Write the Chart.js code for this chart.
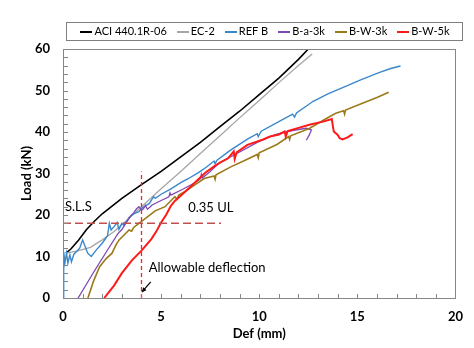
<!DOCTYPE html>
<html><head><meta charset="utf-8">
<script src="https://cdn.jsdelivr.net/npm/chart.js@4.4.0/dist/chart.umd.min.js"></script>
<style>html,body{margin:0;padding:0;background:#fff}#wrap{width:474px;height:348px}</style>
</head><body><div id="wrap"><canvas id="c" width="474" height="348"></canvas></div>
<script>
// ---- data (Def in mm, Load in kN) ----
const seriesNames = ['ACI 440.1R-06', 'EC-2', 'REF B', 'B-a-3k', 'B-W-3k', 'B-W-5k'];

const aciX = [0.15, 0.4, 0.8, 1.2, 1.6, 2.0, 3.0, 4.0, 5.0, 6.0, 7.0, 8.0, 9.0, 10.0, 11.0, 12.0, 12.5];
const aciY = [10.8, 11.8, 14.0, 16.5, 18.5, 20.3, 24.0, 27.3, 30.5, 34.0, 37.5, 41.3, 45.0, 49.0, 53.0, 57.5, 60.0];

const ec2X = [0.15, 0.7, 1.4, 2.0, 2.6, 3.2, 4.0, 5.0, 6.0, 7.0, 8.0, 9.0, 10.0, 11.0, 12.0, 12.7];
const ec2Y = [10.8, 11.3, 12.2, 14.0, 16.0, 18.5, 22.0, 26.3, 30.5, 34.8, 39.1, 43.4, 47.6, 51.9, 56.0, 58.8];

const refX = [0, 0.02, 0.05, 0.1, 0.18, 0.25, 0.35, 0.43, 0.55, 0.85, 1.0, 1.26, 1.44, 1.7, 2.0, 2.27, 2.36, 2.45, 2.6, 2.76, 2.85, 3.0, 3.1, 3.37, 3.6, 3.87, 4.0, 4.2, 4.4, 4.62, 4.7, 5.0, 5.5, 6.0, 6.4, 6.9, 7.3, 7.7, 7.75, 7.85, 8.5, 9.4, 9.9, 9.95, 10.1, 11.0, 11.7, 11.8, 11.9, 12.75, 13.5, 14.4, 15.2, 16.1, 16.7, 17.2];
const refY = [0, 8.0, 11.1, 8.5, 10.8, 8.4, 10.4, 8.7, 10.5, 12.0, 14.0, 10.8, 10.0, 11.6, 13.2, 15.0, 18.0, 16.4, 17.2, 18.2, 16.5, 18.0, 17.5, 19.4, 20.3, 20.8, 21.6, 22.2, 22.8, 24.4, 24.0, 25.0, 26.3, 27.8, 28.8, 30.2, 31.5, 33.0, 32.4, 33.2, 35.5, 38.3, 39.6, 38.9, 40.2, 42.5, 44.3, 43.6, 44.6, 47.4, 49.2, 51.0, 52.6, 54.3, 55.3, 55.9];

const baX = [0.77, 1.6, 2.3, 2.8, 3.0, 3.2, 3.45, 3.6, 3.75, 3.87, 4.0, 4.1, 4.2, 4.3, 4.45, 4.54, 5.0, 5.4, 5.45, 5.5, 6.1, 6.7, 7.0, 7.05, 7.1, 7.5, 7.9, 8.2, 8.7, 9.05, 9.9, 10.5, 10.9, 11.4, 12.0, 12.4, 12.66, 12.55, 12.4];
const baY = [0, 6.5, 11.8, 15.5, 16.5, 18.0, 19.8, 20.5, 21.5, 22.0, 21.2, 21.5, 22.3, 21.4, 22.0, 22.4, 23.5, 24.4, 25.3, 24.8, 26.2, 27.7, 28.7, 29.8, 28.9, 30.5, 32.3, 33.2, 34.4, 35.3, 37.5, 38.8, 39.5, 40.1, 40.6, 40.9, 40.5, 39.3, 38.0];

const bw3X = [1.27, 1.55, 1.86, 2.2, 2.5, 2.7, 2.86, 3.2, 3.37, 3.5, 3.6, 3.87, 4.37, 4.7, 5.2, 5.7, 5.8, 5.9, 6.2, 6.7, 7.2, 7.7, 7.75, 7.8, 8.55, 9.2, 9.9, 9.95, 10.0, 10.9, 11.5, 11.55, 11.6, 12.16, 12.57, 13.4, 13.9, 14.3, 14.35, 14.4, 15.26, 16.0, 16.6];
const bw3Y = [0, 4.0, 7.5, 9.5, 10.8, 12.8, 14.0, 15.6, 16.4, 16.1, 17.0, 18.0, 19.8, 21.0, 22.0, 24.4, 23.8, 24.8, 25.6, 27.2, 28.8, 29.4, 28.6, 29.7, 31.6, 33.0, 34.6, 33.8, 35.0, 37.0, 38.9, 38.2, 39.1, 40.1, 40.9, 43.2, 44.5, 45.1, 44.3, 45.3, 46.9, 48.3, 49.6];

const bw5X = [2.1, 2.6, 3.0, 3.5, 4.0, 4.5, 4.75, 5.0, 5.25, 5.5, 5.7, 6.04, 6.5, 6.9, 7.25, 7.7, 8.0, 8.4, 8.7, 8.75, 8.85, 9.4, 10.2, 10.55, 11.0, 11.3, 11.35, 11.45, 12.0, 12.6, 13.25, 13.7, 13.75, 13.8, 14.0, 14.1, 14.25, 14.5, 14.76];
const bw5Y = [0, 3.0, 6.0, 9.0, 11.4, 14.2, 16.0, 18.2, 20.0, 22.2, 23.4, 24.8, 26.8, 28.6, 30.2, 31.7, 32.6, 33.6, 35.3, 33.5, 35.1, 36.9, 38.2, 38.9, 39.4, 40.1, 38.9, 40.2, 41.0, 41.8, 42.5, 43.1, 41.5, 40.1, 39.3, 38.5, 38.2, 38.7, 39.5];

// annotation lines
const slsX = [0, 8.05];
const slsY = [18, 18];
const allowX = [4, 4];
const allowY = [0, 30.5];
const arrowX = [4.47, 4.02];
const arrowY = [3.9, 1.4];

// tick labels
const xTickLabels = [0, 5, 10, 15, 20];
const yTickLabels = [0, 10, 20, 30, 40, 50, 60];

// annotation texts [text, x, y]
const notes = [['S.L.S', 0.1, 22.0], ['0.35 UL', 6.38, 21.7], ['Allowable deflection', 4.37, 7.2]];

const colors = ['#000000', '#A6A6A6', '#3A87CC', '#7F49B5', '#9C7A1B', '#FF1A1A'];
const widths = [1.6, 1.3, 1.4, 1.3, 1.6, 2.0];

const pts = (xs, ys) => xs.map((v, i) => ({x: v, y: ys[i]}));
const seriesData = [pts(aciX, aciY), pts(ec2X, ec2Y), pts(refX, refY), pts(baX, baY), pts(bw3X, bw3Y), pts(bw5X, bw5Y)];

const datasets = seriesData.map((d, i) => ({
  label: seriesNames[i], data: d, borderColor: colors[i], backgroundColor: colors[i],
  borderWidth: widths[i], pointRadius: 0, tension: 0, fill: false, order: 6 - i
}));
datasets.push({label: '_sls', data: pts(slsX, slsY), borderColor: '#C0504D', borderWidth: 1.6, borderDash: [8, 4], pointRadius: 0, order: 0});
datasets.push({label: '_allow', data: pts(allowX, allowY), borderColor: '#FF2020', borderWidth: 1.3, borderDash: [4, 3], pointRadius: 0, order: 0});

const FONT = 'Lato, "Open Sans", sans-serif';

const decor = {
  id: 'decor',
  afterDraw(chart) {
    const {ctx, chartArea: a, scales: {x, y}} = chart;
    ctx.save();
    ctx.setLineDash([]);
    const L = Math.round(a.left), R = Math.round(a.right), T = Math.round(a.top), B = Math.round(a.bottom);
    // frame (filled 1px rects)
    ctx.fillStyle = '#868686';
    ctx.fillRect(L, T, R - L, 1);
    ctx.fillRect(L, B, R - L + 1, 1);
    ctx.fillRect(L, T, 1, B - T);
    ctx.fillRect(R, T, 1, B - T);
    // inward minor ticks
    x.ticks.forEach(t => { const px = Math.round(x.getPixelForValue(t.value)); ctx.fillRect(px, B - 4, 1, 4); });
    y.ticks.forEach(t => { const py = Math.round(y.getPixelForValue(t.value)); ctx.fillRect(L, py, 5, 1); });
    // texts
    ctx.fillStyle = '#000'; ctx.font = '13px ' + FONT; ctx.textBaseline = 'middle'; ctx.textAlign = 'left';
    notes.forEach(n => ctx.fillText(n[0], x.getPixelForValue(n[1]), y.getPixelForValue(n[2])));
    // arrow
    const x0 = x.getPixelForValue(arrowX[0]), y0 = y.getPixelForValue(arrowY[0]);
    const x1 = x.getPixelForValue(arrowX[1]), y1 = y.getPixelForValue(arrowY[1]);
    ctx.strokeStyle = '#000'; ctx.lineWidth = 1.2;
    ctx.beginPath(); ctx.moveTo(x0, y0); ctx.lineTo(x1, y1); ctx.stroke();
    const ang = Math.atan2(y1 - y0, x1 - x0), AL = 5;
    ctx.beginPath(); ctx.moveTo(x1, y1);
    ctx.lineTo(x1 - AL * Math.cos(ang - 0.45), y1 - AL * Math.sin(ang - 0.45));
    ctx.lineTo(x1 - AL * Math.cos(ang + 0.45), y1 - AL * Math.sin(ang + 0.45));
    ctx.closePath(); ctx.fillStyle = '#000'; ctx.fill();
    // legend
    const bx = 66, by = 22, bw = 396, bh = 18;
    ctx.fillStyle = '#fff'; ctx.fillRect(bx, by, bw, bh);
    ctx.fillStyle = '#7F7F7F';
    ctx.fillRect(bx, by, bw, 1); ctx.fillRect(bx, by + bh, bw + 1, 1);
    ctx.fillRect(bx, by, 1, bh); ctx.fillRect(bx + bw, by, 1, bh);
    ctx.font = '11px ' + FONT;
    const lineW = 12, g1 = 2, g2 = 10;
    const tw = seriesNames.map(s => ctx.measureText(s).width);
    const total = tw.reduce((s, w) => s + w + lineW + g1, 0) + g2 * (seriesNames.length - 1);
    let cx = bx + (bw - total) / 2 + 1;
    const cy = by + bh / 2 + 0.5;
    seriesNames.forEach((s, i) => {
      ctx.fillStyle = colors[i];
      ctx.fillRect(Math.round(cx), Math.round(cy) - 1, lineW, 2);
      cx += lineW + g1;
      ctx.fillStyle = '#000'; ctx.fillText(s, cx, cy);
      cx += tw[i] + g2;
    });
    ctx.restore();
  }
};

new Chart(document.getElementById('c'), {
  type: 'line',
  data: {datasets},
  plugins: [decor],
  options: {
    responsive: false, animation: false, devicePixelRatio: 1,
    layout: {padding: {top: 49, right: 13, left: 0, bottom: 0}},
    plugins: {legend: {display: false}, tooltip: {enabled: false}},
    scales: {
      x: {
        type: 'linear', min: 0, max: 20,
        afterFit: s => { s.height = 50; },
        ticks: {stepSize: 1, autoSkip: false, maxRotation: 0, padding: 11, color: '#000',
          font: {family: FONT, size: 13, weight: 'bold'},
          callback: v => xTickLabels.includes(v) ? String(v) : ''},
        grid: {display: false, drawTicks: false},
        border: {display: false},
        title: {display: true, text: 'Def (mm)', color: '#000', font: {family: FONT, size: 13, weight: 'bold'}, padding: {top: 0, bottom: 6}}
      },
      y: {
        type: 'linear', min: 0, max: 60,
        afterFit: s => { s.width = 63; },
        ticks: {stepSize: 2, autoSkip: false, padding: 13, color: '#000',
          font: {family: FONT, size: 13, weight: 'bold'},
          callback: v => yTickLabels.includes(v) ? String(v) : ''},
        grid: {display: false, drawTicks: false},
        border: {display: false},
        title: {display: true, text: 'Load (kN)', color: '#000', font: {family: FONT, size: 13, weight: 'bold'}, padding: {top: 19, bottom: 0}}
      }
    }
  }
});
</script>
</body></html>
